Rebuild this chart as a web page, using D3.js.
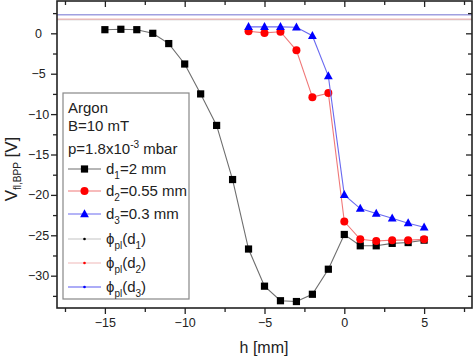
<!DOCTYPE html>
<html><head><meta charset="utf-8">
<script src="https://cdn.jsdelivr.net/npm/d3@7"></script>
<style>
html,body{margin:0;padding:0;background:#fff;}
svg{display:block;font-family:"Liberation Sans",Arial,sans-serif;}
</style></head>
<body>
<svg id="chart" width="474" height="358"></svg>
<script>
// ---- data ----
const hD1 = [-15,-14,-13,-12,-11,-10,-9,-8,-7,-6,-5,-4,-3,-2,-1,0,1,2,3,4,5];
const vD1 = [0.45,0.5,0.45,0.0,-1.27,-3.8,-7.5,-11.4,-18.1,-26.7,-31.3,-33.1,-33.2,-32.3,-29.2,-24.9,-26.3,-26.3,-26.0,-25.9,-25.6];
const hD2 = [-6,-5,-4,-3,-2,-1,0,1,2,3,4,5];
const vD2 = [0.25,0.05,0.2,-2.1,-7.9,-7.4,-23.3,-25.5,-25.7,-25.6,-25.6,-25.5];
const hD3 = [-6,-5,-4,-3,-2,-1,0,1,2,3,4,5];
const vD3 = [0.8,0.8,0.8,0.75,-0.3,-5.3,-20.0,-21.7,-22.3,-22.9,-23.5,-24.0];
const phiLevels = [1.7, 1.75, 2.3];   // phi_pl(d1), phi_pl(d2), phi_pl(d3)
const xMajorTicks = [-15,-10,-5,0,5];
const xMinorTicks = [-17.5,-12.5,-7.5,-2.5,2.5,7.5];
const yMajorTicks = [-30,-25,-20,-15,-10,-5,0];
const yMinorTicks = [-32.5,-27.5,-22.5,-17.5,-12.5,-7.5,-2.5,2.5];
const xDomain = [-18, 8];
const yDomain = [-34, 4];

// ---- layout ----
const svg = d3.select("#chart");
const L = 57, R = 472, T = 1, B = 308;
const x = d3.scaleLinear().domain(xDomain).range([L, R]);
const y = d3.scaleLinear().domain(yDomain).range([B, T]);

const series = [
  {h:hD1, v:vD1, line:"#6e6e6e", mark:"#000", shape:"square"},
  {h:hD2, v:vD2, line:"#f07878", mark:"#ff0000", shape:"circle"},
  {h:hD3, v:vD3, line:"#6a6af0", mark:"#0000ff", shape:"triangle"}
];
const phiColors = ["#c4c4c4", "#f0b8b8", "#a0a0e0"];
const phiDot = ["#000", "#ff0000", "#0000ff"];

// phi lines (constant levels spanning x domain)
phiLevels.forEach((p,i)=>{
  svg.append("path")
    .attr("d", d3.line()([[x(xDomain[0]), y(p)], [x(xDomain[1]), y(p)]]))
    .attr("stroke", phiColors[i]).attr("stroke-width", 1.3).attr("fill","none");
});

function drawMarker(g, shape, cx, cy, color, s){
  if(shape==="square"){
    g.append("rect").attr("x",cx-s*0.45).attr("y",cy-s*0.45).attr("width",s*0.9).attr("height",s*0.9).attr("fill",color);
  } else if(shape==="circle"){
    g.append("circle").attr("cx",cx).attr("cy",cy).attr("r",s*0.5).attr("fill",color);
  } else if(shape==="triangle"){
    const h = s*1.0;
    g.append("path").attr("d",`M${cx},${cy-h*0.6}L${cx+h*0.55},${cy+h*0.4}L${cx-h*0.55},${cy+h*0.4}Z`).attr("fill",color);
  } else if(shape==="dot"){
    g.append("circle").attr("cx",cx).attr("cy",cy).attr("r",1.3).attr("fill",color);
  }
}

const lineGen = d3.line().x(d=>x(d[0])).y(d=>y(d[1]));
series.forEach(s=>{
  const pts = s.h.map((h,i)=>[h, s.v[i]]);
  svg.append("path").attr("d", lineGen(pts)).attr("fill","none").attr("stroke", s.line).attr("stroke-width",1.1);
  const g = svg.append("g");
  pts.forEach(p=>drawMarker(g, s.shape, x(p[0]), y(p[1]), s.mark, 8));
});

// ---- axes ----
const axisColor = "#222";
const gx = svg.append("g").attr("transform",`translate(0,${B})`)
  .call(d3.axisBottom(x).tickValues(xMajorTicks).tickSize(6).tickPadding(4).tickFormat(d3.format("d")));
const gxm = svg.append("g").attr("transform",`translate(0,${B})`)
  .call(d3.axisBottom(x).tickValues(xMinorTicks).tickSize(4).tickFormat(""));
const gy = svg.append("g").attr("transform",`translate(${L},0)`)
  .call(d3.axisLeft(y).tickValues(yMajorTicks).tickSize(6).tickPadding(10).tickFormat(d3.format("d")));
const gym = svg.append("g").attr("transform",`translate(${L},0)`)
  .call(d3.axisLeft(y).tickValues(yMinorTicks).tickSize(4).tickFormat(""));
const gt = svg.append("g").attr("transform",`translate(0,${T})`)
  .call(d3.axisBottom(x).tickValues(xMajorTicks).tickSize(6).tickFormat(""));
const gtm = svg.append("g").attr("transform",`translate(0,${T})`)
  .call(d3.axisBottom(x).tickValues(xMinorTicks).tickSize(4).tickFormat(""));
const gr = svg.append("g").attr("transform",`translate(${R},0)`)
  .call(d3.axisLeft(y).tickValues(yMajorTicks).tickSize(6).tickFormat(""));
const grm = svg.append("g").attr("transform",`translate(${R},0)`)
  .call(d3.axisLeft(y).tickValues(yMinorTicks).tickSize(4).tickFormat(""));
[gx,gxm,gy,gym,gt,gtm,gr,grm].forEach(g=>{
  g.select(".domain").remove();
  g.selectAll("line").attr("stroke",axisColor).attr("stroke-width",1.3);
  g.selectAll("text").attr("font-size","12.5px").attr("fill","#222").attr("font-family","Liberation Sans, Arial, sans-serif");
});
// y tick labels centred (as in the reference)
gy.selectAll("text").attr("text-anchor","middle").attr("x", -(L-38.5));
// frame
svg.append("rect").attr("x",L).attr("y",T).attr("width",R-L).attr("height",B-T)
  .attr("fill","none").attr("stroke",axisColor).attr("stroke-width",1.6);

// axis titles
svg.append("text").attr("x",264).attr("y",353).attr("text-anchor","middle")
  .attr("font-size","16px").attr("fill","#222").text("h [mm]");
const yl = svg.append("text").attr("transform","translate(17,169) rotate(-90)")
  .attr("text-anchor","middle").attr("font-size","17px").attr("fill","#222");
yl.append("tspan").text("V");
yl.append("tspan").attr("font-size","10px").attr("dy","4").text("fl,BPP");
yl.append("tspan").attr("dy","-4").text(" [V]");

// ---- legend ----
const lg = svg.append("g");
lg.append("rect").attr("x",63).attr("y",93).attr("width",126).attr("height",206)
  .attr("fill","#fff").attr("stroke","#888").attr("stroke-width",1.2);
const fs = 15;
function txt(xp, yp){ return lg.append("text").attr("x",xp).attr("y",yp).attr("font-size",fs+"px").attr("fill","#222"); }
txt(68,113).text("Argon");
txt(68,131).text("B=10 mT");
const pt = txt(68,154);
pt.append("tspan").text("p=1.8x10");
pt.append("tspan").attr("font-size","10px").attr("dy","-6").text("-3");
pt.append("tspan").attr("dy","6").text(" mbar");

const entries = [
  {sub:"1", rest:"=2 mm", line:series[0].line, mark:series[0].mark, shape:"square"},
  {sub:"2", rest:"=0.55 mm", line:series[1].line, mark:series[1].mark, shape:"circle"},
  {sub:"3", rest:"=0.3 mm", line:series[2].line, mark:series[2].mark, shape:"triangle"}
];
const rowY = [169, 191, 214, 239, 263, 287];
entries.forEach((e,i)=>{
  const cy = rowY[i];
  lg.append("line").attr("x1",68).attr("x2",101).attr("y1",cy).attr("y2",cy).attr("stroke",e.line).attr("stroke-width",1.1);
  drawMarker(lg, e.shape, 84.5, cy, e.mark, 8);
  const t = txt(106, cy+5);
  t.append("tspan").text("d");
  t.append("tspan").attr("font-size","10px").attr("dy","5").text(e.sub);
  t.append("tspan").attr("dy","-5").text(e.rest);
});
phiLevels.forEach((p,i)=>{
  const cy = rowY[3+i];
  lg.append("line").attr("x1",68).attr("x2",101).attr("y1",cy).attr("y2",cy).attr("stroke",i===2?"#5a5af0":phiColors[i]).attr("stroke-width",1.1);
  drawMarker(lg, "dot", 84.5, cy, phiDot[i], 8);
  const t = txt(106, cy+5);
  t.append("tspan").text("\u03d5");
  t.append("tspan").attr("font-size","10px").attr("dy","5").text("pl");
  t.append("tspan").attr("dy","-5").text("(d");
  t.append("tspan").attr("font-size","10px").attr("dy","5").text(String(i+1));
  t.append("tspan").attr("dy","-5").text(")");
});
</script>
</body></html>
